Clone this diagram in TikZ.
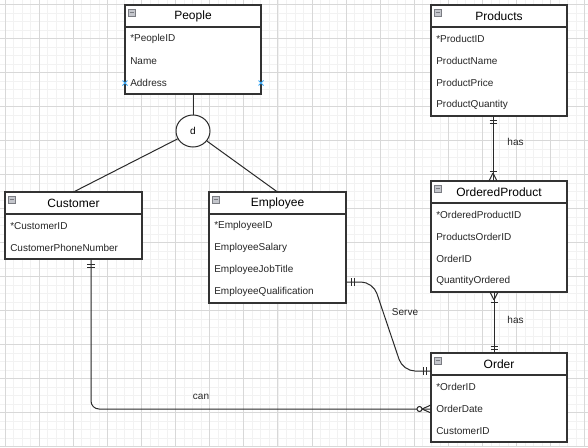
\documentclass[tikz,border=0pt]{standalone}
\usepackage{fontspec}
\setmainfont{Liberation Sans}
\usetikzlibrary{calc,shapes.geometric}
\definecolor{gridmaj}{HTML}{D8D8D8}
\definecolor{gridmin}{HTML}{F2F2F2}
\definecolor{boxline}{HTML}{333333}
\definecolor{connline}{HTML}{2A2A2A}
\definecolor{iconfill}{HTML}{C4C6CC}
\definecolor{icondark}{HTML}{7A7C82}
\definecolor{selblue}{HTML}{3FA9F5}
\tikzset{
  ebox/.style={draw=boxline, line width=0.85pt, fill=white, rectangle, inner sep=0pt, outer sep=0pt},
  eline/.style={draw=boxline, line width=0.85pt},
  etitle/.style={font=\fontsize{9}{11}\selectfont, text=black, inner sep=0pt},
  erow/.style={font=\fontsize{7.5}{9}\selectfont, text=black!85, inner sep=0pt, anchor=west},
  eicon/.style={rectangle, draw=icondark, fill=iconfill, line width=0.4pt, minimum size=5.2pt, inner sep=0pt, anchor=north west},
  conn/.style={draw=connline, line width=0.75pt},
  cardmark/.style={draw=connline, line width=0.75pt},
  lbl/.style={font=\fontsize{7.5}{9}\selectfont, text=black!85, inner sep=0pt},
  dnode/.style={ellipse, draw=connline, line width=0.75pt, fill=white, minimum width=25.5pt, minimum height=24pt, inner sep=0pt, font=\fontsize{7.5}{9}\selectfont},
}
\newcommand\erent[7]{%
  \node[ebox, minimum width=#4*0.75pt, minimum height={(23+22*#5)*0.75pt}, anchor=north west] (#1) at (#2,#3) {};
  \draw[eline] ($(#1.north west)+(0,22)$) -- ($(#1.north east)+(0,22)$);
  \node[etitle] (#1-t) at ($(#1.north)+(0,11)$) {#6};
  \node[eicon] (#1-i) at ($(#1.north west)+(3,4)$) {};
  \draw[icondark, line width=0.6pt] ($(#1-i.west)+(1.5,0)$) -- ($(#1-i.east)+(-1.5,0)$);
  \foreach \r [count=\i] in {#7} {
    \node[erow] (#1-\i) at ($(#1.north west)+(5,12+22*\i)$) {\r};
  }
}
\begin{document}
\begin{tikzpicture}[x=0.75pt, y=-0.75pt]
\useasboundingbox (0,0) rectangle (588,447);
\fill[white] (0,0) rectangle (588,447);
\begin{scope}
  \clip (0,0) rectangle (588,447);
  \foreach \k in {-1,...,69} {
    \draw[gridmin, line width=0.4pt] ({5+8.525*\k},0) -- ({5+8.525*\k},447);
  }
  \foreach \k in {-1,...,53} {
    \draw[gridmin, line width=0.4pt] (0,{4.3+8.5*\k}) -- (588,{4.3+8.5*\k});
  }
  \foreach \k in {0,...,17} {
    \draw[gridmaj, line width=0.5pt] ({5+34.1*\k},0) -- ({5+34.1*\k},447);
  }
  \foreach \k in {0,...,13} {
    \draw[gridmaj, line width=0.5pt] (0,{4.3+34*\k}) -- (588,{4.3+34*\k});
  }
\end{scope}

% entities
\erent{people}{125}{5}{136}{3}{People}{*PeopleID,Name,Address}
\erent{products}{431}{5}{136}{4}{Products}{*ProductID,ProductName,ProductPrice,ProductQuantity}
\erent{customer}{5}{192}{137}{2}{Customer}{*CustomerID,CustomerPhoneNumber}
\erent{employee}{209}{192}{137}{4}{Employee}{*EmployeeID,EmployeeSalary,EmployeeJobTitle,EmployeeQualification}
\erent{orderedproduct}{431}{181}{136}{4}{OrderedProduct}{*OrderedProductID,ProductsOrderID,OrderID,QuantityOrdered}
\erent{order}{431}{353}{136}{3}{Order}{*OrderID,OrderDate,CustomerID}

% selection markers on People/Address
\coordinate (selL) at (people.west |- people-3);
\coordinate (selR) at (people.east |- people-3);
\draw[selblue, line width=0.7pt] ($(selL)+(-2.5,-2.5)$) -- ($(selL)+(2.5,2.5)$) ($(selL)+(-2.5,2.5)$) -- ($(selL)+(2.5,-2.5)$);
\draw[selblue, line width=0.7pt] ($(selR)+(-2.5,-2.5)$) -- ($(selR)+(2.5,2.5)$) ($(selR)+(-2.5,2.5)$) -- ($(selR)+(2.5,-2.5)$);

% disjoint specialisation
\node[dnode] (d) at (193,131) {d};
\draw[conn] (people.south) -- (d.north);
\draw[conn] (d) -- (customer.north);
\draw[conn] (d) -- (employee.north);

% Customer -- Order (can)
\coordinate (cA) at ($(customer.south west)+(86,0)$);
\coordinate (oB) at (order.west |- order-2);
\draw[conn, rounded corners=6] (cA) |- (oB);
\draw[cardmark] ($(cA)+(-4,5)$) -- ++(8,0) ($(cA)+(-4,8)$) -- ++(8,0);
\draw[cardmark] ($(oB)+(-9,0)$) -- ($(oB)+(0,-4)$) ($(oB)+(-9,0)$) -- ($(oB)+(0,4)$);
\draw[cardmark, fill=white] ($(oB)+(-11.5,0)$) circle[radius=1.9pt];
\node[lbl] (lcan) at (201,397) {can};

% Employee -- Order (Serve)
\coordinate (eS) at ($(employee.north east)+(0,90)$);
\coordinate (oS) at ($(order.north west)+(0,18)$);
\draw[conn, rounded corners=9] (eS) -- ++(27,0) -- ($(oS)+(-28,0)$) -- (oS);
\draw[cardmark] ($(eS)+(5,-4)$) -- ++(0,8) ($(eS)+(8.5,-4)$) -- ++(0,8);
\draw[cardmark] ($(oS)+(-8,-4)$) -- ++(0,8) ($(oS)+(-4.5,-4)$) -- ++(0,8);
\node[lbl] (lserve) at (405,312) {Serve};

% Products -- OrderedProduct (has)
\coordinate (pA) at ($(products.south west)+(62,0)$);
\coordinate (opA) at ($(orderedproduct.north west)+(62,0)$);
\draw[conn] (pA) -- (opA);
\draw[cardmark] ($(pA)+(-3.5,4)$) -- ++(7,0) ($(pA)+(-3.5,7)$) -- ++(7,0);
\draw[cardmark] ($(opA)+(0,-8)$) -- ($(opA)+(-4,0)$) ($(opA)+(0,-8)$) -- ($(opA)+(4,0)$);
\draw[cardmark] ($(opA)+(-3.5,-10)$) -- ++(7,0);
\node[lbl] (lhas1) at (515.5,142) {has};

% OrderedProduct -- Order (has)
\coordinate (opB) at ($(orderedproduct.south west)+(63,0)$);
\coordinate (oA) at ($(order.north west)+(63,0)$);
\draw[conn] (opB) -- (oA);
\draw[cardmark] ($(opB)+(0,8)$) -- ($(opB)+(-4,0)$) ($(opB)+(0,8)$) -- ($(opB)+(4,0)$);
\draw[cardmark] ($(opB)+(-3.5,10)$) -- ++(7,0);
\draw[cardmark] ($(oA)+(-3.5,-4)$) -- ++(7,0) ($(oA)+(-3.5,-7)$) -- ++(7,0);
\node[lbl] (lhas2) at (515.5,320) {has};
\end{tikzpicture}
\end{document}
